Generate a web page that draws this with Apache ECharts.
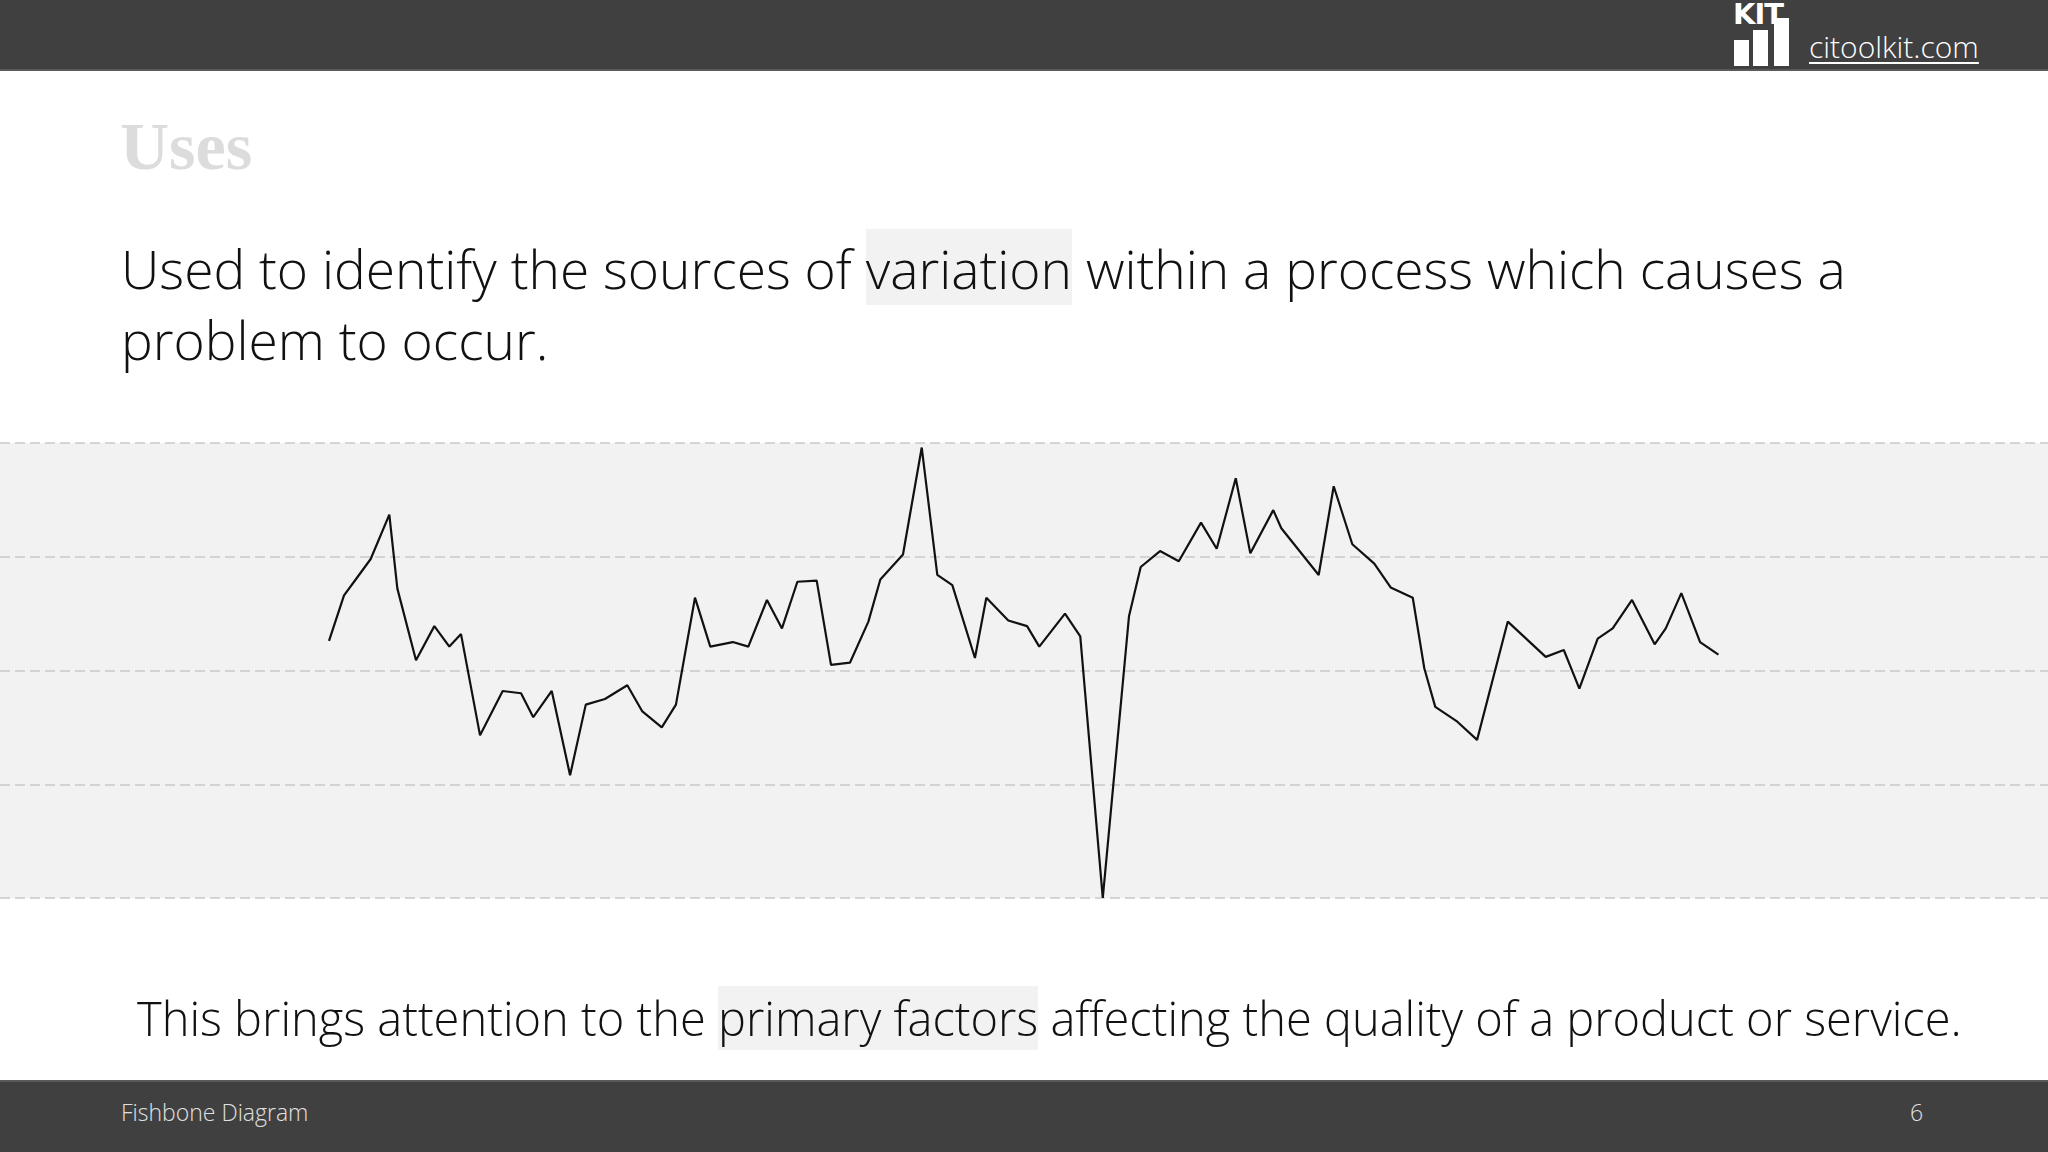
<!DOCTYPE html>
<html>
<head>
<meta charset="utf-8">
<script src="https://cdn.jsdelivr.net/npm/echarts@6/dist/echarts.min.js"></script>
<style>
  html, body { margin:0; padding:0; width:2048px; height:1152px; background:#ffffff; overflow:hidden; }
  #chart { position:absolute; left:0; top:0; width:2048px; height:1152px; }
  .bar { position:absolute; left:0; width:2048px; background:#404040; }
  .txt { position:absolute; font-family:"Open Sans", sans-serif; white-space:nowrap; }
  .hl { background:#f2f2f2; padding:3px 0 0 0; }
</style>
</head>
<body>
<div id="chart"></div>
<div class="bar" style="top:0;height:71px;border-bottom:2px solid #5a5a5a;box-sizing:border-box;"></div>
<div class="bar" style="top:1080px;height:72px;border-top:2px solid #5a5a5a;box-sizing:border-box;"></div>

<!-- logo -->
<div class="txt" style="left:1733px;top:-3px;font-family:'DejaVu Sans';font-weight:bold;font-size:29px;color:#fff;letter-spacing:-1px;">KIT</div>
<div style="position:absolute;left:1734px;top:40px;width:15px;height:26px;background:#fff;"></div>
<div style="position:absolute;left:1753px;top:30px;width:15px;height:36px;background:#fff;"></div>
<div style="position:absolute;left:1774px;top:18px;width:15px;height:48px;background:#fff;"></div>
<div class="txt" style="left:1809px;top:26px;font-size:30px;font-weight:300;color:#fff;text-decoration:underline;text-decoration-thickness:2px;text-underline-offset:4px;">citoolkit.com</div>

<div class="txt" style="left:120px;top:107px;font-family:'Liberation Serif',serif;font-weight:bold;font-size:68px;color:#dcdcdc;">Uses</div>

<div class="txt" style="left:121px;top:233px;font-size:53.3px;font-weight:300;color:#111;line-height:71px;">Used to identify the sources of <span class="hl">variation</span> within a process which causes a<br>problem to occur.</div>

<div class="txt" style="left:137px;top:986px;font-size:47px;font-weight:300;color:#111;line-height:64px;">This brings attention to the <span class="hl" style="padding:0 0 0 0;">primary factors</span> affecting the quality of a product or service.</div>

<div class="txt" style="left:121px;top:1096px;font-size:23px;font-weight:300;color:#e0e0e0;">Fishbone Diagram</div>
<div class="txt" style="left:1910px;top:1096px;font-size:23px;font-weight:300;color:#e0e0e0;">6</div>

<script>
// x positions (arbitrary time units 0..100) and values
const tValues = [0.0,1.08,2.04,3.00,4.34,4.92,6.26,7.58,8.66,9.50,10.87,12.50,13.82,14.70,16.03,17.35,18.48,19.86,21.47,22.55,23.95,24.97,26.34,27.44,29.06,30.18,31.52,32.60,33.71,35.10,36.13,37.50,38.82,39.68,41.31,42.66,43.78,44.86,46.49,47.31,48.89,50.24,51.12,52.97,54.07,55.69,57.58,58.42,59.81,61.16,62.76,63.89,65.26,66.31,67.96,68.54,71.23,72.31,73.65,75.23,76.41,78.00,78.83,79.62,81.21,82.63,84.84,87.57,88.87,89.99,91.31,92.39,93.78,95.41,96.21,97.33,98.68,100.0];
const seriesValues = [2.26,2.66,2.82,2.98,3.37,2.72,2.09,2.39,2.21,2.32,1.43,1.82,1.80,1.59,1.82,1.08,1.70,1.75,1.87,1.64,1.50,1.70,2.64,2.21,2.25,2.21,2.62,2.37,2.78,2.79,2.05,2.07,2.43,2.80,3.02,3.96,2.84,2.75,2.11,2.64,2.44,2.39,2.21,2.50,2.30,0.00,2.48,2.91,3.05,2.96,3.30,3.07,3.69,3.03,3.41,3.25,2.84,3.62,3.11,2.94,2.73,2.64,2.02,1.68,1.55,1.39,2.43,2.12,2.18,1.84,2.28,2.37,2.62,2.23,2.37,2.68,2.25,2.14];
const yTicks = [0, 1, 2, 3, 4];

const chart = echarts.init(document.getElementById('chart'), null, {renderer:'canvas'});
chart.setOption({
  animation: false,
  grid: { left: 0, right: 0, top: 443, bottom: 254, show: true, backgroundColor: '#f2f2f2', borderWidth: 0 },
  xAxis: { type: 'value', min: -23.68, max: 123.72, show: false },
  yAxis: {
    type: 'value', min: yTicks[0], max: yTicks[yTicks.length-1], interval: 1,
    axisLabel: { show: false }, axisLine: { show: false }, axisTick: { show: false },
    splitLine: { show: true, lineStyle: { color: '#c9c9c9', width: 1.5, type: [10, 5] } }
  },
  series: [{
    type: 'line',
    data: tValues.map((t, i) => [t, seriesValues[i]]),
    symbol: 'none',
    lineStyle: { color: '#111111', width: 2.2 },
    z: 5
  }]
});
</script>
</body>
</html>
